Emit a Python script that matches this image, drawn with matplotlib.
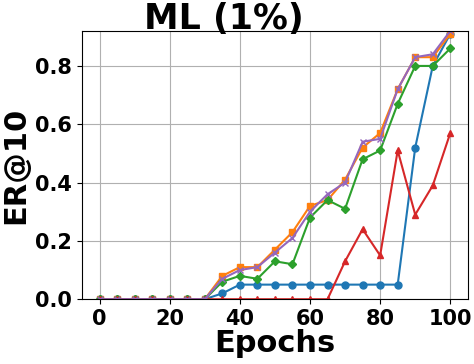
import matplotlib
matplotlib.use("Agg")
import matplotlib.pyplot as plt

epochs = list(range(0, 101, 5))

# values
blue = [0, 0, 0, 0, 0, 0, 0, 0.02, 0.05, 0.05, 0.05, 0.05, 0.05, 0.05, 0.05, 0.05, 0.05, 0.05, 0.52, 0.80, 0.91]
orange = [0, 0, 0, 0, 0, 0, 0, 0.08, 0.11, 0.11, 0.17, 0.23, 0.32, 0.34, 0.41, 0.52, 0.57, 0.72, 0.83, 0.83, 0.91]
green = [0, 0, 0, 0, 0, 0, 0, 0.06, 0.08, 0.07, 0.13, 0.12, 0.28, 0.34, 0.31, 0.48, 0.51, 0.67, 0.80, 0.80, 0.86]
red = [0, 0, 0, 0, 0, 0, 0, 0, 0, 0, 0, 0, 0, 0, 0.13, 0.24, 0.15, 0.51, 0.29, 0.39, 0.57]
purple = [0, 0, 0, 0, 0, 0, 0, 0.07, 0.10, 0.11, 0.16, 0.21, 0.30, 0.36, 0.40, 0.54, 0.55, 0.72, 0.83, 0.84, 0.92]

fig, ax = plt.subplots(figsize=(4.74, 3.64), dpi=100)

ax.plot(epochs, blue, marker='o', color='tab:blue', markersize=5)
ax.plot(epochs, orange, marker='s', color='tab:orange', markersize=5)
ax.plot(epochs, green, marker='D', color='tab:green', markersize=4.5)
ax.plot(epochs, red, marker='^', color='tab:red', markersize=5)
ax.plot(epochs, purple, marker='x', color='tab:purple', markersize=5)

ax.set_ylim(0, 0.92)
ax.set_xticks([0, 20, 40, 60, 80, 100])
ax.set_yticks([0.0, 0.2, 0.4, 0.6, 0.8])
ax.grid(True)
# title sits a bit left of centre and overlaps the top spine
ax.text(0.368, 1.007, "ML (1%)", transform=ax.transAxes, ha='center', va='baseline',
        fontsize=25, fontweight='bold')
ax.set_xlabel("Epochs", fontsize=22, fontweight='bold', labelpad=0)
ax.set_ylabel("ER@10", fontsize=22, fontweight='bold')
for lbl in ax.get_xticklabels() + ax.get_yticklabels():
    lbl.set_fontsize(15)
    lbl.set_fontweight('bold')

plt.subplots_adjust(left=0.173, right=0.987, top=0.915, bottom=0.178)
plt.savefig("out.png")
